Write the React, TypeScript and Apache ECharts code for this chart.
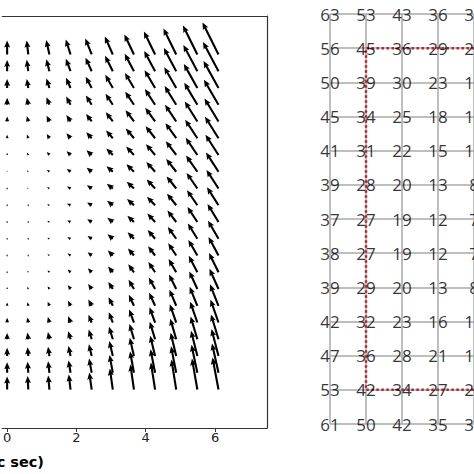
import React, { useEffect, useRef } from "react";
import * as echarts from "echarts";

// ---------- Left panel: vector field (quiver) ----------
const XS = [0, 0.61, 1.22, 1.83, 2.44, 3.05, 3.66, 4.27, 4.88, 5.49, 6.1];
const YS = [6.1, 5.49, 4.88, 4.27, 3.66, 3.05, 2.44, 1.83, 1.22, 0.61, 0, -0.61, -1.22, -1.83, -2.44, -3.05, -3.66, -4.27, -4.88, -5.49, -6.1];
const X_TICKS = [0, 2, 4, 6];
const X_NAME = "X (arc sec)";

// horizontal component (per row, per column)
const U = [
  [0, -1.6, -3.2, -4.8, -6.4, -8, -9.6, -11.2, -12.8, -14.4, -16],
  [0, -1.6, -3.1, -4.7, -6.2, -7.8, -9.3, -10.9, -12.4, -14, -15.5],
  [0, -1.5, -3, -4.5, -6, -7.5, -9, -10.5, -12, -13.5, -15],
  [0, -1.5, -2.9, -4.4, -5.8, -7.3, -8.7, -10.2, -11.6, -13.1, -14.5],
  [0, -1.4, -2.8, -4.2, -5.6, -7, -8.4, -9.8, -11.2, -12.6, -14],
  [0, -1.4, -2.7, -4.1, -5.4, -6.8, -8.1, -9.5, -10.8, -12.2, -13.5],
  [0, -1.3, -2.6, -3.9, -5.2, -6.5, -7.8, -9.1, -10.4, -11.7, -13],
  [0, -1.3, -2.5, -3.8, -5, -6.3, -7.5, -8.8, -10, -11.3, -12.5],
  [0, -1.2, -2.4, -3.6, -4.8, -6, -7.2, -8.4, -9.6, -10.8, -12],
  [0, -1.2, -2.3, -3.5, -4.6, -5.8, -6.9, -8.1, -9.2, -10.4, -11.5],
  [0, -1.1, -2.2, -3.3, -4.4, -5.5, -6.6, -7.7, -8.8, -9.9, -11],
  [0, -1.1, -2.1, -3.2, -4.2, -5.3, -6.3, -7.4, -8.4, -9.5, -10.5],
  [0, -1, -2, -3, -4, -5, -6, -7, -8, -9, -10],
  [0, -1, -1.9, -2.9, -3.8, -4.8, -5.7, -6.7, -7.6, -8.6, -9.5],
  [0, -0.9, -1.8, -2.7, -3.6, -4.5, -5.4, -6.3, -7.2, -8.1, -9],
  [0, -0.9, -1.7, -2.6, -3.4, -4.3, -5.1, -6, -6.8, -7.7, -8.5],
  [0, -0.8, -1.6, -2.4, -3.2, -4, -4.8, -5.6, -6.4, -7.2, -8],
  [0, -0.8, -1.5, -2.3, -3, -3.8, -4.5, -5.3, -6, -6.8, -7.5],
  [0, -0.7, -1.4, -2.1, -2.8, -3.5, -4.2, -4.9, -5.6, -6.3, -7],
  [0, -0.7, -1.3, -2, -2.6, -3.3, -3.9, -4.6, -5.2, -5.9, -6.5],
  [0, -0.6, -1.2, -1.8, -2.4, -3, -3.6, -4.2, -4.8, -5.4, -6],
];
// vertical component (per row, per column)
const V = [
  [14, 14, 14.5, 15, 16, 18, 20, 23, 26, 29, 32],
  [11.3, 11.4, 11.9, 12.4, 13.5, 15.4, 17.4, 20.2, 23.2, 26.3, 29.3],
  [9, 9, 9.5, 10.1, 11.2, 13.1, 15, 17.8, 20.8, 24, 27],
  [6.9, 7, 7.5, 8.1, 9.2, 11, 13, 15.6, 18.6, 21.9, 24.9],
  [5, 5.2, 5.7, 6.4, 7.5, 9.2, 11.2, 13.7, 16.7, 20, 23],
  [3.5, 3.7, 4.2, 4.9, 6, 7.7, 9.7, 12.1, 15.1, 18.5, 21.5],
  [2.2, 2.4, 2.9, 3.7, 4.8, 6.5, 8.4, 10.8, 13.8, 17.2, 20.2],
  [1.3, 1.4, 1.9, 2.7, 3.9, 5.5, 7.4, 9.8, 12.8, 16.3, 19.3],
  [0.6, 0.8, 1.3, 2, 3.2, 4.8, 6.8, 9.1, 12.1, 15.6, 18.6],
  [0.1, 0.3, 0.8, 1.6, 2.8, 4.4, 6.3, 8.6, 11.6, 15.1, 18.1],
  [0, 0.2, 0.7, 1.5, 2.7, 4.3, 6.2, 8.5, 11.5, 15, 18],
  [0.1, 0.3, 0.8, 1.6, 2.8, 4.5, 6.4, 8.7, 11.7, 15.2, 18.1],
  [0.5, 0.7, 1.2, 2, 3.3, 5, 7, 9.2, 12.2, 15.6, 18.6],
  [1.2, 1.4, 1.9, 2.7, 4, 5.8, 7.9, 10.2, 13.2, 16.4, 19.3],
  [2.1, 2.3, 2.8, 3.7, 5, 7, 9.2, 11.5, 14.5, 17.6, 20.2],
  [3.3, 3.5, 4, 4.9, 6.3, 8.5, 10.9, 13.1, 16.1, 19, 21.5],
  [4.7, 5, 5.5, 6.4, 7.8, 10.3, 13, 15.2, 18.2, 20.8, 23],
  [6.4, 6.7, 7.2, 8.1, 9.7, 12.5, 15.4, 17.6, 20.6, 22.8, 24.9],
  [8.3, 8.7, 9.2, 10.1, 11.9, 15, 18.2, 20.3, 23.3, 25.2, 27],
  [10.5, 11, 11.5, 12.4, 14.3, 17.8, 21.4, 23.5, 26.5, 28, 29.3],
  [13, 13.5, 14, 15, 17, 21, 25, 27, 30, 31, 32],
];

// ---------- Right panel: number grid ----------
const GRID_VALUES = [
  [63, 53, 43, 36, 30],
  [56, 45, 36, 29, 23],
  [50, 39, 30, 23, 17],
  [45, 34, 25, 18, 13],
  [41, 31, 22, 15, 10],
  [39, 28, 20, 13, 8],
  [37, 27, 19, 12, 7],
  [38, 27, 19, 12, 7],
  [39, 29, 20, 13, 8],
  [42, 32, 23, 16, 11],
  [47, 36, 28, 21, 16],
  [53, 42, 34, 27, 22],
  [61, 50, 42, 35, 30],
];
// red dotted outline: [column, row]
const OUTLINE = [[4, 1], [1, 1], [1, 11], [4, 11]];

const QSCALE = 1;

function renderArrow(_params: any, api: any) {
  const x = api.value(0);
  const y = api.value(1);
  const u = api.value(2);
  const v = api.value(3);
  const p = api.coord([x, y]);
  const dx = u * QSCALE;
  const dy = -v * QSCALE;
  const L = Math.hypot(dx, dy);
  if (L < 1.3) {
    return { type: "circle", shape: { cx: p[0], cy: p[1], r: 0.9 }, style: { fill: "#666" } };
  }
  const ux = dx / L, uy = dy / L;
  const nx = -uy, ny = ux;
  let w = 2.1, hl = 7, hal = 6.2, hw = 6;
  if (L < hl) {
    const f = L / hl;
    w *= f; hal *= f; hw *= f; hl = L;
  }
  const pt = (a: number, b: number) => [p[0] + ux * a + nx * b, p[1] + uy * a + ny * b];
  const pts = [
    pt(0, w / 2), pt(L - hal, w / 2), pt(L - hl, hw / 2), pt(L, 0),
    pt(L - hl, -hw / 2), pt(L - hal, -w / 2), pt(0, -w / 2),
  ];
  return { type: "polygon", shape: { points: pts }, style: { fill: "#000" } };
}

export default function App() {
  const ref = useRef<HTMLDivElement>(null);
  useEffect(() => {
    if (!ref.current) return;
    const chart = echarts.init(ref.current, null, { renderer: "svg" });

    const quiverData: number[][] = [];
    YS.forEach((y, i) => XS.forEach((x, k) => quiverData.push([x, y, U[i][k], V[i][k]])));

    const numData: number[][] = [];
    GRID_VALUES.forEach((row, r) => row.forEach((val, c) => numData.push([c, r, val])));

    const spine = { show: true, onZero: false, lineStyle: { color: "#333", width: 1.2 } };

    chart.setOption({
      animation: false,
      backgroundColor: "#fff",
      grid: [
        { left: 0, right: 207, top: 16, bottom: 46, show: false },
        { left: 330, right: -5, top: 14, bottom: 50, show: false },
      ],
      xAxis: [
        {
          type: "value", gridIndex: 0, min: -0.143, max: 7.5, position: "bottom",
          axisLine: spine,
          axisTick: { show: true, length: 4, customValues: X_TICKS, lineStyle: { color: "#333", width: 1 } },
          axisLabel: { customValues: X_TICKS, margin: 3, fontSize: 13, fontFamily: "DejaVu Sans", color: "#222" },
          splitLine: { show: false },
        },
        {
          type: "value", gridIndex: 0, min: -0.143, max: 7.5, position: "top",
          axisLine: spine, axisTick: { show: false }, axisLabel: { show: false }, splitLine: { show: false },
        },
        {
          type: "value", gridIndex: 1, min: 0, max: 4, interval: 1,
          axisLine: { show: false }, axisTick: { show: false }, axisLabel: { show: false },
          splitLine: { show: true, lineStyle: { color: "#a8a8a8", width: 1.5 } },
        },
      ],
      yAxis: [
        {
          type: "value", gridIndex: 0, min: -7.5, max: 7.5, position: "right",
          axisLine: spine, axisTick: { show: false }, axisLabel: { show: false }, splitLine: { show: false },
        },
        {
          type: "value", gridIndex: 1, min: 0, max: 12, interval: 1, inverse: true,
          axisLine: { show: false }, axisTick: { show: false }, axisLabel: { show: false },
          splitLine: { show: true, lineStyle: { color: "#a8a8a8", width: 1.5 } },
        },
      ],
      graphic: [
        {
          type: "text", x: 44, y: 462,
          style: {
            text: X_NAME, x: 0, y: 0, align: "right", verticalAlign: "middle",
            font: "bold 14.5px 'DejaVu Sans'", fill: "#000",
          },
        },
      ],
      series: [
        {
          type: "custom", xAxisIndex: 0, yAxisIndex: 0, renderItem: renderArrow,
          data: quiverData, clip: false, silent: true,
        },
        {
          type: "line", xAxisIndex: 2, yAxisIndex: 1, data: OUTLINE, symbol: "none",
          lineStyle: { color: "#b3262d", width: 2.5, type: [2.5, 2.5] }, z: 3, silent: true,
        },
        {
          type: "scatter", xAxisIndex: 2, yAxisIndex: 1, data: numData, symbolSize: 1,
          itemStyle: { color: "rgba(0,0,0,0)" }, z: 5, silent: true,
          label: {
            show: true, position: "inside", formatter: (p: any) => String(p.value[2]),
            fontFamily: "Open Sans", fontSize: 17, color: "#000",
          },
        },
      ],
    });
    return () => chart.dispose();
  }, []);
  return <div ref={ref} style={{ position: "fixed", left: 0, top: 0, width: 474, height: 474 }} />;
}
